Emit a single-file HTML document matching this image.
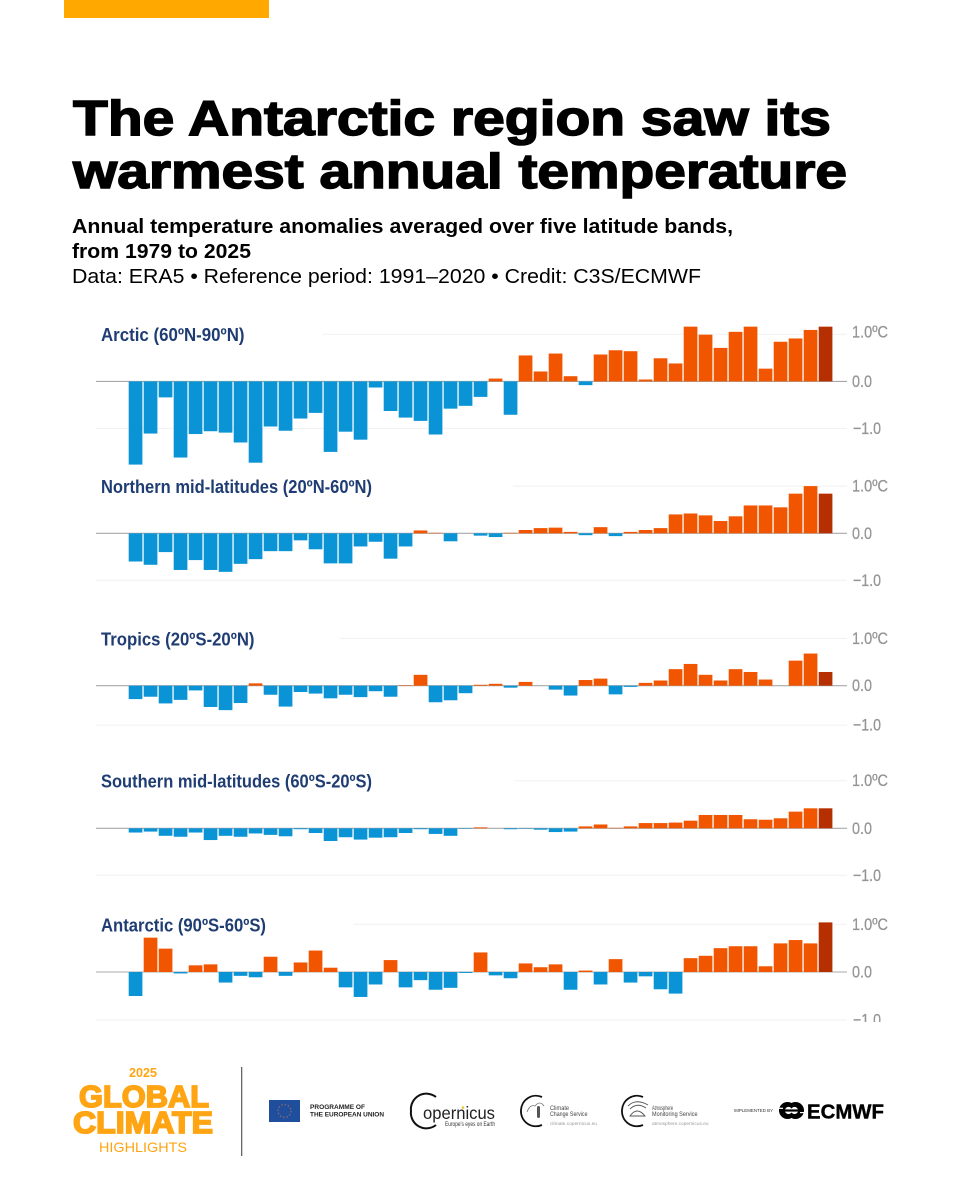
<!DOCTYPE html>
<html lang="en">
<head>
<meta charset="utf-8">
<title>The Antarctic region saw its warmest annual temperature</title>
<style>
html,body{margin:0;padding:0;background:#fff;}
body{width:960px;height:1200px;overflow:hidden;}
svg{display:block;font-family:"Liberation Sans",sans-serif;}
</style>
</head>
<body>
<svg id="page" width="960" height="1200" viewBox="0 0 960 1200" xmlns="http://www.w3.org/2000/svg">
  <defs>
    <clipPath id="page-clip"><rect x="0" y="0" width="960" height="1022"/></clipPath>
  </defs>
  <rect x="0" y="0" width="960" height="1200" fill="#ffffff"/>
  <rect x="64" y="0" width="205" height="18" fill="#ffa800"/>

  <g font-weight="700" font-size="49" fill="#000" stroke="#000" stroke-width="1.5">
    <text x="73" y="135" textLength="758" lengthAdjust="spacingAndGlyphs">The Antarctic region saw its</text>
    <text x="73" y="188" textLength="774" lengthAdjust="spacingAndGlyphs">warmest annual temperature</text>
  </g>
  <text x="72" y="233" font-size="20" font-weight="700" fill="#000" textLength="661" lengthAdjust="spacingAndGlyphs">Annual temperature anomalies averaged over five latitude bands,</text>
  <text x="72" y="258" font-size="20" font-weight="700" fill="#000" textLength="179" lengthAdjust="spacingAndGlyphs">from 1979 to 2025</text>
  <text x="72" y="283" font-size="20" fill="#000" textLength="629" lengthAdjust="spacingAndGlyphs">Data: ERA5 • Reference period: 1991–2020 • Credit: C3S/ECMWF</text>

  <g id="charts" clip-path="url(#page-clip)"></g>

  <g font-size="18.5" font-weight="700" fill="#1f3d73">
    <text x="101" y="341" textLength="143.5" lengthAdjust="spacingAndGlyphs">Arctic (60ºN-90ºN)</text>
    <text x="101" y="493" textLength="271" lengthAdjust="spacingAndGlyphs">Northern mid-latitudes (20ºN-60ºN)</text>
    <text x="101" y="645.5" textLength="153.5" lengthAdjust="spacingAndGlyphs">Tropics (20ºS-20ºN)</text>
    <text x="101" y="787.5" textLength="271" lengthAdjust="spacingAndGlyphs">Southern mid-latitudes (60ºS-20ºS)</text>
    <text x="101" y="931.5" textLength="165" lengthAdjust="spacingAndGlyphs">Antarctic (90ºS-60ºS)</text>
  </g>

  <g fill="#ffa412">
    <text x="129" y="1077" font-size="13" font-weight="700" textLength="28" lengthAdjust="spacingAndGlyphs">2025</text>
    <text x="79" y="1107" font-size="31" font-weight="700" stroke="#ffa412" stroke-width="1.7" textLength="130" lengthAdjust="spacingAndGlyphs">GLOBAL</text>
    <text x="73" y="1133" font-size="31" font-weight="700" stroke="#ffa412" stroke-width="1.7" textLength="140" lengthAdjust="spacingAndGlyphs">CLIMATE</text>
    <text x="99" y="1152" font-size="14" textLength="88" lengthAdjust="spacingAndGlyphs">HIGHLIGHTS</text>
  </g>
  <rect x="241" y="1067" width="1.3" height="89" fill="#666"/>

  <g>
    <rect x="269" y="1100" width="31" height="22" fill="#1f4e9c"/>
    <circle cx="284.5" cy="1111" r="6.5" fill="none" stroke="#8a6a70" stroke-width="1.4" stroke-dasharray="1.4 2"/>
    <text x="310" y="1109" font-size="6.6" font-weight="700" fill="#222" textLength="55" lengthAdjust="spacingAndGlyphs">PROGRAMME OF</text>
    <text x="310" y="1116.7" font-size="6.6" font-weight="700" fill="#222" textLength="74" lengthAdjust="spacingAndGlyphs">THE EUROPEAN UNION</text>
  </g>

  <g>
    <path d="M436 1097 A15.5 15.5 0 0 0 411 1111 A15.5 15.5 0 0 0 436 1125" fill="none" stroke="#111" stroke-width="2"/>
    <text x="423" y="1119" font-size="17.5" fill="#222" textLength="72" lengthAdjust="spacingAndGlyphs">opernicus</text>
    <circle cx="463" cy="1107.5" r="1.3" fill="#e3c62a"/>
    <text x="445" y="1126" font-size="6" fill="#333" textLength="50" lengthAdjust="spacingAndGlyphs">Europe's eyes on Earth</text>
  </g>

  <g>
    <path d="M542 1097 A15 15 0 0 0 521 1110 A15 15 0 0 0 542 1125" fill="none" stroke="#111" stroke-width="1.8"/>
    <path d="M527 1112 Q530 1104 535 1106 Q540 1100 544 1106" fill="none" stroke="#777" stroke-width="0.8"/>
    <rect x="537" y="1106" width="3" height="12" rx="1.5" fill="#555"/>
    <text x="550" y="1110" font-size="6.5" fill="#444" textLength="19" lengthAdjust="spacingAndGlyphs">Climate</text>
    <text x="550" y="1116" font-size="6.5" fill="#444" textLength="37.5" lengthAdjust="spacingAndGlyphs">Change Service</text>
    <text x="550" y="1125" font-size="4.5" fill="#999" textLength="47" lengthAdjust="spacingAndGlyphs">climate.copernicus.eu</text>
  </g>

  <g>
    <path d="M643 1097 A15 15 0 0 0 622 1110 A15 15 0 0 0 643 1125" fill="none" stroke="#111" stroke-width="1.8"/>
    <path d="M628 1106 Q636 1098 648 1105 M630 1109 Q637 1102 646 1108 M630 1116 Q637 1106 645 1116 Z" fill="none" stroke="#555" stroke-width="0.9"/>
    <text x="652" y="1110" font-size="6.5" fill="#444" textLength="21" lengthAdjust="spacingAndGlyphs">Atmosphere</text>
    <text x="652" y="1116" font-size="6.5" fill="#444" textLength="45.5" lengthAdjust="spacingAndGlyphs">Monitoring Service</text>
    <text x="652" y="1125" font-size="4.5" fill="#999" textLength="56.5" lengthAdjust="spacingAndGlyphs">atmosphere.copernicus.eu</text>
  </g>

  <g>
    <text x="734" y="1112" font-size="4.8" fill="#333" textLength="39" lengthAdjust="spacingAndGlyphs">IMPLEMENTED BY</text>
    <g>
      <circle cx="787.5" cy="1110.5" r="8.5" fill="#000"/>
      <circle cx="795.5" cy="1110.5" r="8.5" fill="#000"/>
      <circle cx="788.5" cy="1110.5" r="3.6" fill="#fff"/>
      <circle cx="794.5" cy="1110.5" r="3.6" fill="#fff"/>
      <rect x="779" y="1109.4" width="25" height="2.2" fill="#000"/>
      <rect x="778" y="1107.7" width="5" height="1.2" fill="#fff"/>
      <rect x="800" y="1112" width="5" height="1.2" fill="#fff"/>
    </g>
    <text x="807" y="1118.5" font-size="20" font-weight="700" fill="#000" stroke="#000" stroke-width="0.4" textLength="77" lengthAdjust="spacingAndGlyphs">ECMWF</text>
  </g>
</svg>

<script>
const firstYear = 1979;
const arcticValues = [-1.77,-1.11,-0.34,-1.62,-1.12,-1.06,-1.09,-1.30,-1.73,-0.96,-1.05,-0.79,-0.67,-1.50,-1.07,-1.24,-0.13,-0.63,-0.77,-0.84,-1.13,-0.58,-0.52,-0.33,0.06,-0.71,0.55,0.21,0.59,0.11,-0.08,0.57,0.66,0.64,0.04,0.49,0.38,1.16,0.99,0.71,1.05,1.16,0.27,0.84,0.91,1.09,1.16];
const northernMidValues = [-0.60,-0.67,-0.40,-0.78,-0.57,-0.78,-0.82,-0.65,-0.55,-0.38,-0.38,-0.15,-0.34,-0.64,-0.64,-0.28,-0.18,-0.54,-0.28,0.06,0.01,-0.17,0.00,-0.05,-0.08,0.01,0.07,0.11,0.12,0.03,-0.04,0.13,-0.06,0.03,0.07,0.11,0.40,0.42,0.38,0.26,0.36,0.59,0.59,0.55,0.84,1.00,0.84];
const tropicsValues = [-0.34,-0.28,-0.45,-0.36,-0.12,-0.54,-0.62,-0.44,0.05,-0.23,-0.53,-0.16,-0.20,-0.32,-0.23,-0.29,-0.14,-0.28,0.01,0.23,-0.42,-0.37,-0.19,0.02,0.04,-0.05,0.08,0.00,-0.10,-0.25,0.12,0.15,-0.22,-0.03,0.06,0.11,0.35,0.46,0.23,0.11,0.35,0.29,0.13,0.00,0.53,0.68,0.29];
const southernMidValues = [-0.09,-0.07,-0.16,-0.18,-0.09,-0.25,-0.16,-0.18,-0.11,-0.14,-0.17,-0.02,-0.10,-0.27,-0.19,-0.24,-0.20,-0.19,-0.10,-0.02,-0.12,-0.16,-0.01,0.02,0.00,-0.02,-0.01,-0.03,-0.08,-0.07,0.04,0.08,0.01,0.04,0.11,0.11,0.12,0.16,0.28,0.28,0.28,0.19,0.18,0.21,0.35,0.42,0.42];
const antarcticValues = [-0.50,0.72,0.49,-0.03,0.14,0.16,-0.22,-0.08,-0.11,0.32,-0.08,0.20,0.45,0.09,-0.32,-0.52,-0.26,0.25,-0.32,-0.17,-0.37,-0.33,-0.02,0.41,-0.07,-0.13,0.18,0.10,0.16,-0.37,0.03,-0.26,0.27,-0.22,-0.09,-0.36,-0.45,0.29,0.34,0.50,0.54,0.54,0.12,0.60,0.67,0.60,1.04];
const tickValues = [1, 0, -1];
const tickLabels = ["1.0ºC", "0.0", "−1.0"];

const panels = [
  {name: "arctic", values: arcticValues, zero: 381.4, up: 47.2, down: 47, gridStart: 323, topLabelNudge: -2},
  {name: "northern-mid-latitudes", values: northernMidValues, zero: 533.3, up: 47.2, down: 47, gridStart: 513, topLabelNudge: 0},
  {name: "tropics", values: tropicsValues, zero: 685.7, up: 47.3, down: 39.4, gridStart: 340, topLabelNudge: 0},
  {name: "southern-mid-latitudes", values: southernMidValues, zero: 828.3, up: 47.6, down: 47, gridStart: 515, topLabelNudge: 0},
  {name: "antarctic", values: antarcticValues, zero: 972, up: 47.7, down: 48, gridStart: 353, topLabelNudge: 0}
];

const SVG_NS = "http://www.w3.org/2000/svg";
const barStartX = 128.7;
const barStep = 15;
const barWidth = 13.7;
const axisLeft = 96;
const axisRight = 847;
const tickLabelX = 852;

function xScale(index) {
  return barStartX + index * barStep;
}
function yScale(panel, value) {
  return value >= 0 ? panel.zero - value * panel.up : panel.zero - value * panel.down;
}
function make(tag, attrs, parent) {
  const el = document.createElementNS(SVG_NS, tag);
  for (const key in attrs) el.setAttribute(key, attrs[key]);
  parent.appendChild(el);
  return el;
}
function barColor(value, index, count) {
  if (index === count - 1) return "#b52f00";
  return value >= 0 ? "#f25500" : "#0a94d6";
}

const chartsRoot = document.getElementById("charts");
panels.forEach(function (panel) {
  const group = make("g", {}, chartsRoot);
  
  

  tickValues.forEach(function (tick, t) {
    const y = yScale(panel, tick);
    const lineStart = tick > 0 ? panel.gridStart : axisLeft;
    const line = make("line", {
      x1: lineStart, x2: axisRight, y1: y, y2: y,
      stroke: tick === 0 ? "#a8a8a8" : "#f1f1f1",
      "stroke-width": tick === 0 ? 1.1 : 1
    }, group);
    
    

    const label = make("text", {
      x: tick < 0 ? tickLabelX + 1 : tickLabelX,
      y: y + 5.5 + (tick > 0 ? panel.topLabelNudge : 0),
      "font-size": 17,
      fill: "#949494",
      stroke: "#949494",
      "stroke-width": 0.25
    }, group);
    
    
    label.setAttribute("textLength", tick > 0 ? 36 : (tick < 0 ? 28 : 20));
    label.setAttribute("lengthAdjust", "spacingAndGlyphs");
    label.textContent = tickLabels[t];
  });

  panel.values.forEach(function (value, i) {
    const y0 = yScale(panel, 0);
    const y1 = yScale(panel, value);
    const bar = make("rect", {
      x: xScale(i),
      y: Math.min(y0, y1),
      width: barWidth,
      height: Math.abs(y1 - y0),
      fill: barColor(value, i, panel.values.length)
    }, group);
    
    
  });
});
</script>
</body>
</html>
